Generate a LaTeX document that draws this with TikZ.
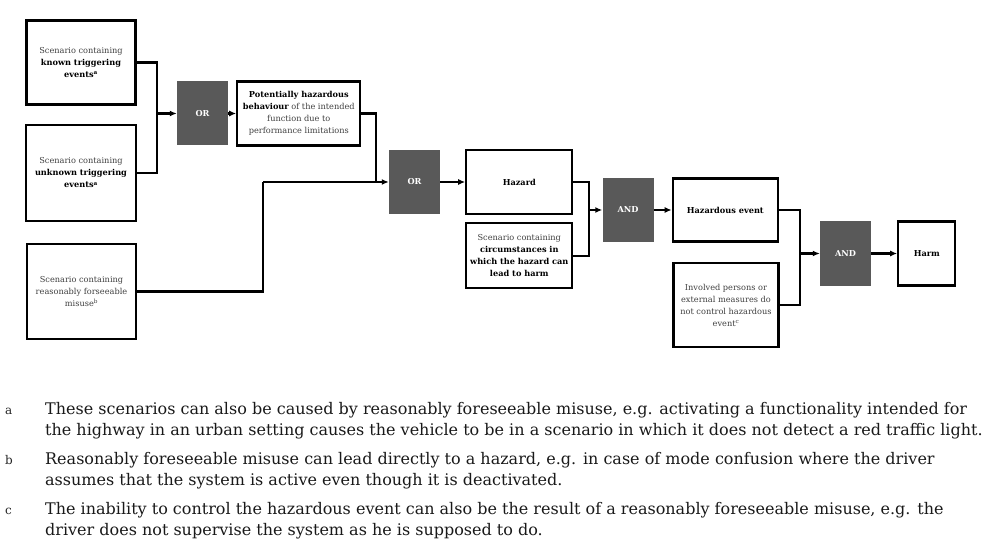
\documentclass[tikz,border=0pt]{standalone}
\usepackage{fontspec}
\setmainfont{DejaVu Serif}
\usepackage{tikz}
\usetikzlibrary{arrows.meta,positioning}
\definecolor{gategray}{RGB}{89,89,89}
\tikzset{
  block/.style={draw=black, line width=2.2pt, align=center, fill=white, inner sep=2pt,
    text=black!75, font=\fontsize{8.2}{12}\selectfont},
  gate/.style={fill=gategray, text=white, minimum width=51pt, minimum height=64pt,
    font=\fontsize{8.2}{12}\selectfont\bfseries},
  wire/.style={line width=2.2pt},
  arr/.style={-{Latex[length=7pt,width=6pt]}, line width=2.2pt},
  fnote/.style={anchor=north west, inner sep=0pt, align=left, text=black!90,
    font=\fontsize{16}{21}\selectfont},
  fnmark/.style={anchor=base west, inner sep=0pt, text=black!85, font=\fontsize{12}{14}\selectfont}
}

\begin{document}
\begin{tikzpicture}[x=1pt, y=-1pt]
  \useasboundingbox (0,0) rectangle (989,559);

  % scenarios
  \node[block, minimum width=109pt, minimum height=84pt] (known) at (81,62.5)
    {Scenario containing\\\textbf{\color{black}known triggering}\\\textbf{\color{black}events\textsuperscript{a}}};
  \node[block, minimum width=110pt, minimum height=96pt] (unknown) at (81,173)
    {Scenario containing\\\textbf{\color{black}unknown triggering}\\\textbf{\color{black}events\textsuperscript{a}}};
  \node[block, minimum width=109pt, minimum height=95pt] (misuse) at (81.5,291.5)
    {Scenario containing\\reasonably forseeable\\misuse\textsuperscript{b}};

  % first OR gate
  \node[gate] (or1) at (202.5,113.5) {OR};
  \node[block, right=8pt of or1, minimum width=123pt, minimum height=64pt] (phb)
    {\textbf{\color{black}Potentially hazardous}\\\textbf{\color{black}behaviour} of the intended\\function due to\\performance limitations};

  % second OR gate
  \node[gate] (or2) at (414.5,182) {OR};
  \node[block, right=25pt of or2, minimum width=106pt, minimum height=64pt] (hazard)
    {\textbf{\color{black}Hazard}};
  \node[block, below=7pt of hazard, minimum width=106pt, minimum height=65pt] (circ)
    {Scenario containing\\\textbf{\color{black}circumstances in}\\\textbf{\color{black}which the hazard can}\\\textbf{\color{black}lead to harm}};

  % AND gates
  \node[gate] (and1) at (628,210) {AND};
  \node[block, right=18pt of and1, minimum width=105pt, minimum height=63pt] (hevent)
    {\textbf{\color{black}Hazardous event}};
  \node[block, minimum width=105pt, minimum height=84pt] (involved) at (726,305)
    {Involved persons or\\external measures do\\not control hazardous\\event\textsuperscript{c}};
  \node[gate] (and2) at (845.5,253.5) {AND};
  \node[block, right=26pt of and2, minimum width=57pt, minimum height=64pt] (harm)
    {\textbf{\color{black}Harm}};

  % connectors
  \coordinate (j1) at (157,113.5);
  \coordinate (j2) at (376,182);
  \coordinate (j3) at (263,182);
  \coordinate (j4) at (589,210);
  \coordinate (j5) at (800,253.5);

  \draw[wire] (known.east) -| (j1);
  \draw[wire] (unknown.east) -| (j1);
  \draw[arr] (j1) -- (or1.west);
  \draw[arr] (or1) -- (phb);

  \draw[wire] (phb.east) -| (j2);
  \draw[wire] (misuse.east) -| (j3);
  \draw[arr] (j3) -- (or2.west);
  \draw[arr] (or2) -- (hazard);

  \draw[wire] (hazard.east) -| (j4);
  \draw[wire] (circ.east) -| (j4);
  \draw[arr] (j4) -- (and1.west);
  \draw[arr] (and1) -- (hevent);

  \draw[wire] (hevent.east) -| (j5);
  \draw[wire] (involved.east) -| (j5);
  \draw[arr] (j5) -- (and2.west);
  \draw[arr] (and2) -- (harm);

  % footnotes
  \node[fnmark] (la) at (5,414) {a};
  \node[fnote] (fna) at (45,402)
    {These scenarios can also be caused by reasonably foreseeable misuse, e.g. activating a functionality intended for\\
     the highway in an urban setting causes the vehicle to be in a scenario in which it does not detect a red traffic light.};
  \node[fnmark] (lb) at (5,464) {b};
  \node[fnote] (fnb) at (45,452)
    {Reasonably foreseeable misuse can lead directly to a hazard, e.g. in case of mode confusion where the driver\\
     assumes that the system is active even though it is deactivated.};
  \node[fnmark] (lc) at (5,514) {c};
  \node[fnote] (fnc) at (45,502)
    {The inability to control the hazardous event can also be the result of a reasonably foreseeable misuse, e.g. the\\
     driver does not supervise the system as he is supposed to do.};
\end{tikzpicture}
\end{document}
